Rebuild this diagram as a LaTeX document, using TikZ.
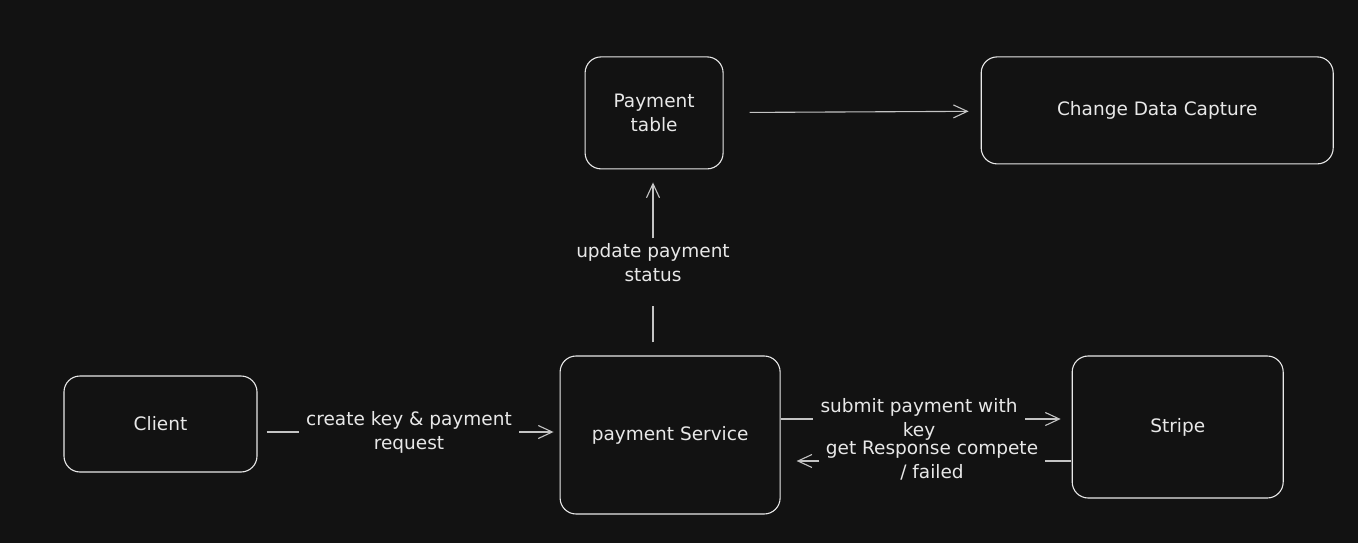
\documentclass[tikz,border=0pt]{standalone}
\usepackage{fontspec}
\setmainfont{DejaVu Sans}
\usetikzlibrary{arrows.meta,positioning}
\definecolor{canvas}{HTML}{121212}
\definecolor{ink}{HTML}{E8E8E8}
\definecolor{wire}{HTML}{C4C4C4}

\begin{document}
\begin{tikzpicture}[x=1pt,y=-1pt,>={Straight Barb[length=14pt,width=13pt]},
      line width=1.1pt,font=\fontsize{18.5}{24}\selectfont,
      block/.style={draw=ink,rounded corners=16pt,text=ink,align=center,inner sep=0pt},
      lbl/.style={text=ink,align=center,inner sep=3pt},
      wire/.style={draw=wire}]

    \fill[canvas] (0,0) rectangle (1358,543);
    \useasboundingbox (0,0) rectangle (1358,543);

    \node[block,minimum width=193pt,minimum height=96pt] (client) at (160.5,424) {Client};
    \node[block,minimum width=220pt,minimum height=158pt] (svc) [right=302pt of client,yshift=-11pt] {payment Service};
    \node[block,minimum width=211pt,minimum height=142pt] (stripe) [right=291pt of svc,yshift=8pt] {Stripe};
    \node[block,minimum width=138pt,minimum height=112pt] (tbl) [above=186pt of svc,xshift=-16pt] {Payment\\table};
    \node[block,minimum width=352pt,minimum height=107pt] (cdc) [right=257pt of tbl,yshift=2.5pt] {Change Data Capture};

    % labels
    \node[lbl] (upd) at (653,263) {update payment\\status};
    \node[lbl] (req) at (409,432) {create key \& payment\\request};
    \node[lbl] (sub) at (919,419) {submit payment with\\key};
    \node[lbl] (resp) at (932,461) {get Response compete\\/ failed};

    \draw[->,wire,shorten <=26pt,shorten >=12pt] (tbl) -- (cdc);
    \draw[wire,shorten <=13pt,shorten >=20pt] (upd.south |- svc.north) -- (upd.south);
    \draw[->,wire,shorten <=2pt,shorten >=13pt] (upd.north) -- (upd.north |- tbl.south);
    \draw[wire,shorten <=9pt,shorten >=4pt] (client.east |- req.west) -- (req.west);
    \draw[->,wire,shorten <=4pt,shorten >=6pt] (req.east) -- (req.east -| svc.west);
    \draw[wire,shorten >=4pt] (svc.east |- sub.west) -- (sub.west);
    \draw[->,wire,shorten <=4pt,shorten >=11pt] (sub.east) -- (sub.east -| stripe.west);
    \draw[wire,shorten <=1pt,shorten >=3pt] (stripe.west |- resp.east) -- (resp.east);
    \draw[->,wire,shorten <=3pt,shorten >=16pt] (resp.west) -- (resp.west -| svc.east);
  \end{tikzpicture}
\end{document}
